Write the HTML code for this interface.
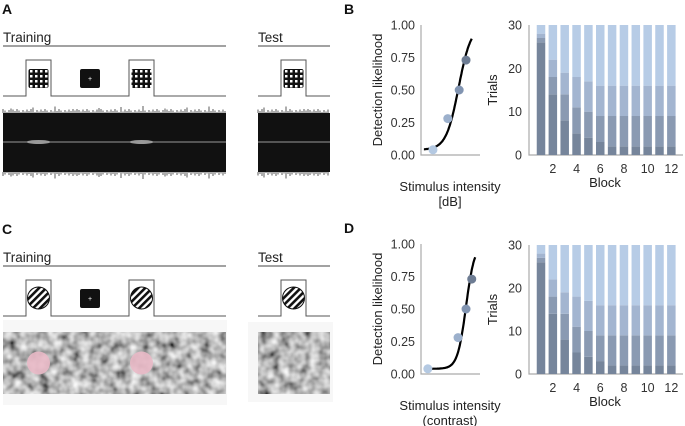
<!DOCTYPE html>
<html><head><meta charset="utf-8"><style>
html,body{margin:0;padding:0;background:#fff;}
svg{display:block;font-family:"Liberation Sans",sans-serif;}
</style></head><body>
<svg id="fig" width="685" height="426" viewBox="0 0 685 426">
<defs>
<filter id="noise" x="0" y="0" width="100%" height="100%">
<feTurbulence type="fractalNoise" baseFrequency="0.1" numOctaves="2" seed="3"/>
<feColorMatrix type="matrix" values="1.3 0 0 0 -0.17  1.3 0 0 0 -0.17  1.3 0 0 0 -0.17  0 0 0 0 1"/>
</filter>
<pattern id="checker" width="5" height="5" patternUnits="userSpaceOnUse"><rect width="5" height="5" fill="#111"/><rect width="2.5" height="2.5" fill="#fff"/><rect x="2.5" y="2.5" width="2.5" height="2.5" fill="#111"/></pattern>
<pattern id="stripes" width="5" height="5" patternUnits="userSpaceOnUse" patternTransform="rotate(45)"><rect width="5" height="5" fill="#fff"/><rect width="2.6" height="5" fill="#111"/></pattern>
</defs>
<g id="left"></g>
<g id="charts"></g>
</svg>
<script>
// Bar chart data (cumulative boundaries of stacked segments)
const blocks = [1,2,3,4,5,6,7,8,9,10,11,12];
const level1 = [26,14,8,5,4,3,2,2,2,2,2,2];
const level2 = [27,18,14,11,10,9,9,9,9,9,9,9];
const level3 = [28,22,19,18,17,16,16,16,16,16,16,16];
const totals = [30,30,30,30,30,30,30,30,30,30,30,30];
const barTicks = [0,10,20,30];
const blockTicks = [2,4,6,8,10,12];
// Psychometric data
const psyTicks = [0,0.25,0.5,0.75,1];
const psyXB = [0.21,0.47,0.67,0.79];
const psyYB = [0.04,0.28,0.50,0.73];
const psyXD = [0.12,0.65,0.79,0.89];
const psyYD = [0.04,0.28,0.50,0.73];
const fitB = [0.04,0.66,0.11];
const fitD = [0.04,0.79,0.075];

const NS='http://www.w3.org/2000/svg';
function mk(parent,tag,attrs,text){const e=document.createElementNS(NS,tag);for(const k in attrs)e.setAttribute(k,attrs[k]);if(text!==undefined)e.textContent=text;parent.appendChild(e);return e;}
const L=document.getElementById('left'), C=document.getElementById('charts');

function stimPanel(oy, letter, kind){
  const t=mk(L,'text',{x:2,y:oy+14,'font-size':14,'font-weight':'bold',fill:'#111'},letter);
  
  
  const tr=mk(L,'text',{x:3,y:oy+42,'font-size':13.5,fill:'#222'},'Training');
  
  
  mk(L,'line',{x1:3,x2:226,y1:oy+46,y2:oy+46,stroke:'#444','stroke-width':1});
  const te=mk(L,'text',{x:258,y:oy+42,'font-size':13.5,fill:'#222'},'Test');
  
  
  mk(L,'line',{x1:258,x2:330,y1:oy+46,y2:oy+46,stroke:'#444','stroke-width':1});
  const top=oy+60, base=oy+96;
  const tp=mk(L,'path',{d:`M3 ${base}H26V${top}H51V${base}H129V${top}H154V${base}H226`,fill:'none',stroke:'#555','stroke-width':1});
  
  
  const sp=mk(L,'path',{d:`M258 ${base}H281V${top}H306V${base}H330`,fill:'none',stroke:'#555','stroke-width':1});
  
  
  const fx=mk(L,'rect',{x:80,y:oy+69,width:20,height:19,rx:2,fill:'#111'});
  
  
  mk(L,'text',{x:90,y:oy+81,'font-size':7,fill:'#fff','text-anchor':'middle'},'+');
  [38.5,141.5,293.5].forEach(cx=>{
    if(kind==='check'){
      const r=mk(L,'rect',{x:cx-10,y:oy+69,width:20,height:19,rx:2,fill:'url(#checker)'});
      
      
    } else {
      const c=mk(L,'circle',{cx:cx,cy:oy+78,r:11,fill:'url(#stripes)',stroke:'#111','stroke-width':1});
      
      
    }
  });
}
stimPanel(0,'A','check');
stimPanel(220,'C','grating');

// A: audio waveform
[[3,223],[258,72]].forEach(([x,w],i)=>{
  const r=mk(L,'rect',{x:x,y:113,width:w,height:59,fill:'#111'});
  
  
  let d='';
  for(let xx=x;xx<x+w;xx+=2){const h=((xx*37)%7)+ (xx%11===0?6:0);d+=`M${xx} 113v-${h/2+1}M${xx} 172v${h/2+1}`;}
  mk(L,'path',{d:d,stroke:'#333','stroke-width':0.8});
  mk(L,'line',{x1:x,x2:x+w,y1:142,y2:142,stroke:'#999','stroke-width':1});
});
[38.5,141.5].forEach(cx=>mk(L,'ellipse',{cx:cx,cy:142,rx:12,ry:2,fill:'#999'}));
// C: noise images
mk(L,'rect',{x:3,y:320,width:224,height:85,fill:'#f7f7f7'});
mk(L,'rect',{x:248,y:322,width:85,height:80,fill:'#f7f7f7'});
[[3,223],[258,72]].forEach(([x,w],i)=>{
  const r=mk(L,'rect',{x:x,y:332,width:w,height:62,fill:'#8a8a8a',filter:'url(#noise)'});
  
  
});
[38.5,141.5].forEach(cx=>{const c=mk(L,'circle',{cx:cx,cy:363,r:11.5,fill:'#e9b9c6',opacity:0.9});
  
  });

// Psychometric panels
function psy(oy,letter,px,py,fit,xlab2){
  const x0=421,x1=478,yb=oy+155,yt=oy+25;
  const X=v=>x0+v*(x1-x0), Y=v=>yb-v*(yb-yt);
  const t=mk(C,'text',{x:344,y:oy+14,'font-size':14,'font-weight':'bold',fill:'#111'},letter);
  
  
  mk(C,'path',{d:`M${x0} ${yt}V${yb}H${x1+2}`,fill:'none',stroke:'#aaa','stroke-width':1.2});
  psyTicks.forEach(v=>{const tx=mk(C,'text',{x:x0-6,y:Y(v)+4.5,'font-size':12.5,fill:'#333','text-anchor':'end'},v.toFixed(2));
    
    });
  const yl=mk(C,'text',{transform:`translate(382 ${(yb+yt)/2}) rotate(-90)`,'font-size':13,fill:'#222','text-anchor':'middle'},'Detection likelihood');
  
  
  const xl=mk(C,'text',{x:450,y:oy+191,'font-size':13,fill:'#222','text-anchor':'middle'},'Stimulus intensity');
  
  
  mk(C,'text',{x:450,y:oy+206,'font-size':13,fill:'#222','text-anchor':'middle'},xlab2);
  let d='';
  for(let v=0.05;v<=0.97;v+=0.01){const p=fit[0]+(1-fit[0])/(1+Math.exp(-(v-fit[1])/fit[2]));if(p>0.9)break;d+=(d?'L':'M')+X(v).toFixed(1)+' '+Y(p).toFixed(1);}
  const fl=mk(C,'path',{d:d,fill:'none',stroke:'#000','stroke-width':2.2});
  
  
  const cols=['#b4c9e2','#9cb0cc','#8194b1','#6d7c93'];
  px.forEach((v,i)=>{const c=mk(C,'circle',{cx:X(v),cy:Y(py[i]),r:4.5,fill:cols[i]});
    
    });
}
psy(0,'B',psyXB,psyYB,fitB,'[dB]');
psy(219,'D',psyXD,psyYD,fitD,'(contrast)');

// Stacked bar charts
function bars(yb,yt){
  const ax0=529, ax1=683;
  const X=b=>541+(b-1)*11.85, Y=v=>yb-v/30*(yb-yt), w=8.5;
  mk(C,'path',{d:`M${ax0} ${yt}V${yb}H${ax1}`,fill:'none',stroke:'#aaa','stroke-width':1.2});
  barTicks.forEach(v=>{const t=mk(C,'text',{x:ax0-7,y:Y(v)+4.5,'font-size':12.5,fill:'#333','text-anchor':'end'},v);
    
    });
  blockTicks.forEach(b=>{const t=mk(C,'text',{x:X(b),y:yb+18,'font-size':12.5,fill:'#333','text-anchor':'middle'},b);
    
    });
  const yl=mk(C,'text',{transform:`translate(497 ${(yb+yt)/2}) rotate(-90)`,'font-size':13,fill:'#222','text-anchor':'middle'},'Trials');
  
  
  const xl=mk(C,'text',{x:605,y:yb+32,'font-size':13,fill:'#222','text-anchor':'middle'},'Block');
  
  
  const series=[level1,level2,level3,totals], cols=['#76859b','#8a9ab2','#a3b5d0','#b7cce6'];
  blocks.forEach((b,i)=>{
    let prev=0;
    series.forEach((s,k)=>{
      const r=mk(C,'rect',{x:X(b)-w/2,y:Y(s[i]),width:w,height:Y(prev)-Y(s[i]),fill:cols[k]});
      
      
      prev=s[i];
    });
  });
}
bars(155,25);
bars(374,245);
</script>
</body></html>
